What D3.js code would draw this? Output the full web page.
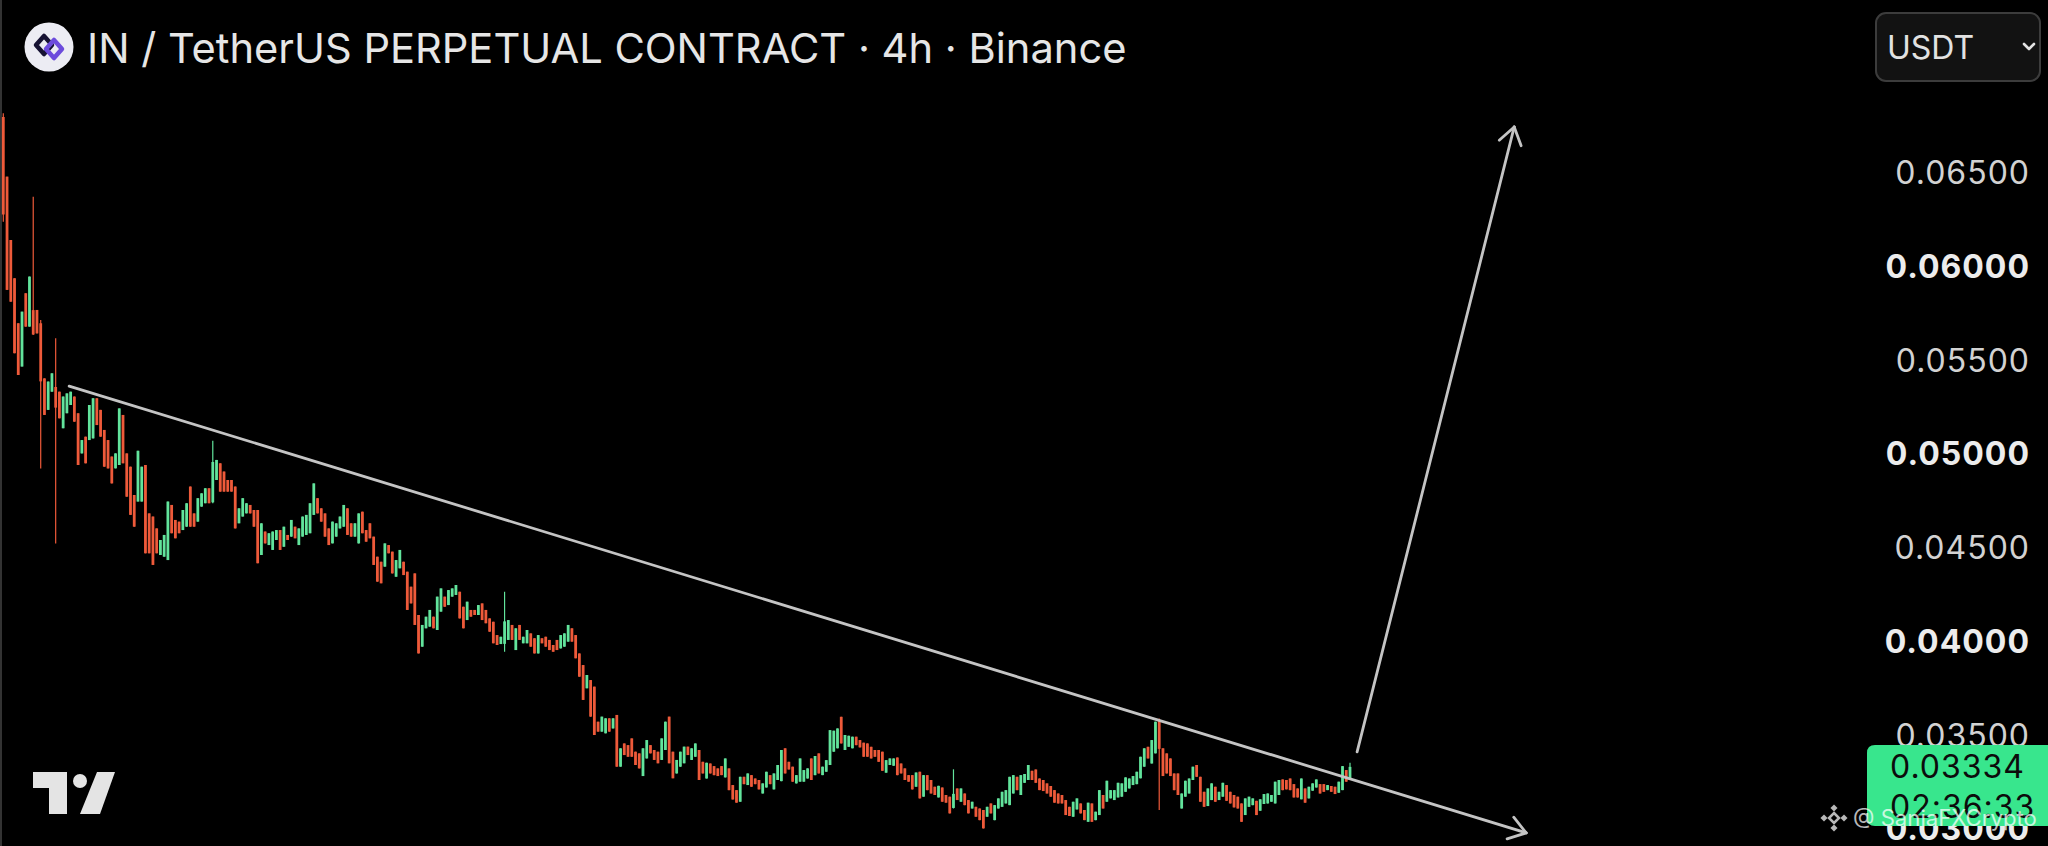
<!DOCTYPE html>
<html>
<head>
<meta charset="utf-8">
<script src="https://cdn.jsdelivr.net/npm/d3@7"></script>
<style>
  html, body { margin: 0; padding: 0; background: #000; overflow: hidden; }
  svg { display: block; }
  text { font-family: Inter, "Noto Sans", "DejaVu Sans", sans-serif; }
</style>
</head>
<body>
<div class="bigvis"></div>
<script>
var width = 2048
var height = 846

// 4h candles, IN/USDT perpetual
var opens = [0.06800,0.06482,0.06144,0.05940,0.05700,0.05469,0.05860,0.05682,0.05770,0.05771,
0.05700,0.05406,0.05238,0.05335,0.05360,0.05335,0.05140,0.05220,0.05264,0.05309,
0.05220,0.05006,0.05095,0.05077,0.05086,0.05300,0.05238,0.05131,0.05077,0.04989,
0.04926,0.04944,0.05211,0.05006,0.04935,0.04784,0.04749,0.04749,0.04944,0.04686,
0.04669,0.04606,0.04464,0.04455,0.04437,0.04731,0.04651,0.04642,0.04597,0.04615,
0.04829,0.04686,0.04642,0.04722,0.04740,0.04820,0.04745,0.04864,0.04953,0.04909,
0.04864,0.04864,0.04829,0.04633,0.04669,0.04686,0.04731,0.04704,0.04704,0.04464,
0.04589,0.04517,0.04491,0.04544,0.04597,0.04508,0.04571,0.04562,0.04615,0.04517,
0.04562,0.04571,0.04580,0.04678,0.04767,0.04713,0.04686,0.04606,0.04526,0.04562,
0.04606,0.04615,0.04713,0.04633,0.04562,0.04526,0.04695,0.04597,0.04633,0.04562,
0.04455,0.04428,0.04402,0.04517,0.04482,0.04348,0.04393,0.04428,0.04375,0.04295,
0.04366,0.04144,0.03975,0.04073,0.04082,0.04135,0.04064,0.04162,0.04242,0.04197,
0.04242,0.04251,0.04268,0.04188,0.04117,0.04171,0.04171,0.04144,0.04206,0.04171,
0.04126,0.04108,0.04037,0.03989,0.03990,0.04011,0.04091,0.03957,0.04091,0.03993,
0.03993,0.04046,0.04020,0.03939,0.04020,0.04028,0.04011,0.03984,0.04011,0.03966,
0.03975,0.04002,0.04073,0.04037,0.03939,0.03877,0.03753,0.03797,0.03762,0.03575,
0.03522,0.03513,0.03593,0.03539,0.03611,0.03335,0.03459,0.03450,0.03486,0.03415,
0.03406,0.03285,0.03379,0.03450,0.03424,0.03415,0.03371,0.03424,0.03602,0.03415,
0.03299,0.03335,0.03353,0.03442,0.03371,0.03388,0.03424,0.03361,0.03272,0.03352,
0.03338,0.03326,0.03338,0.03278,0.03326,0.03237,0.03210,0.03148,0.03281,0.03237,
0.03290,0.03272,0.03264,0.03192,0.03224,0.03290,0.03214,0.03264,0.03258,0.03433,
0.03361,0.03335,0.03246,0.03255,0.03255,0.03272,0.03379,0.03290,0.03406,0.03290,
0.03308,0.03344,0.03415,0.03433,0.03601,0.03424,0.03441,0.03433,0.03495,0.03477,
0.03463,0.03459,0.03441,0.03424,0.03424,0.03415,0.03303,0.03344,0.03340,0.03384,
0.03352,0.03326,0.03290,0.03290,0.03228,0.03308,0.03175,0.03290,0.03264,0.03228,
0.03171,0.03224,0.03184,0.03175,0.03115,0.03219,0.03148,0.03192,0.03157,0.03112,
0.03121,0.03112,0.03104,0.03068,0.03139,0.03050,0.03112,0.03121,0.03139,0.03130,
0.03192,0.03281,0.03184,0.03249,0.03264,0.03313,0.03320,0.03272,0.03264,0.03246,
0.03232,0.03210,0.03192,0.03184,0.03157,0.03121,0.03068,0.03107,0.03139,0.03104,
0.03041,0.03139,0.03050,0.03077,0.03184,0.03148,0.03166,0.03157,0.03171,0.03175,
0.03201,0.03219,0.03237,0.03242,0.03273,0.03335,0.03441,0.03352,0.03406,0.03585,
0.03433,0.03406,0.03379,0.03299,0.03299,0.03112,0.03175,0.03192,0.03264,0.03344,
0.03281,0.03201,0.03125,0.03157,0.03228,0.03157,0.03175,0.03237,0.03201,0.03184,
0.03175,0.03139,0.03077,0.03121,0.03130,0.03153,0.03100,0.03136,0.03139,0.03148,
0.03139,0.03184,0.03267,0.03264,0.03272,0.03242,0.03219,0.03161,0.03219,0.03166,
0.03207,0.03224,0.03242,0.03242,0.03210,0.03232,0.03228,0.03196,0.03210,0.03317,
0.03264]

var highs = [0.06820,0.06482,0.06144,0.05940,0.05700,0.05762,0.05860,0.05949,0.06375,0.05771,
0.05718,0.05406,0.05389,0.05433,0.05620,0.05335,0.05309,0.05326,0.05335,0.05309,
0.05220,0.05077,0.05095,0.05264,0.05300,0.05300,0.05238,0.05131,0.05077,0.04989,
0.05006,0.05246,0.05211,0.05006,0.04935,0.04784,0.05020,0.04935,0.04944,0.04686,
0.04669,0.04606,0.04544,0.04571,0.04749,0.04731,0.04651,0.04642,0.04704,0.04740,
0.04829,0.04686,0.04767,0.04793,0.04820,0.04820,0.05074,0.04971,0.04953,0.04909,
0.04864,0.04864,0.04829,0.04713,0.04767,0.04740,0.04731,0.04704,0.04704,0.04633,
0.04589,0.04580,0.04589,0.04597,0.04597,0.04615,0.04571,0.04651,0.04615,0.04606,
0.04669,0.04678,0.04740,0.04846,0.04767,0.04713,0.04686,0.04606,0.04642,0.04633,
0.04669,0.04731,0.04713,0.04633,0.04633,0.04686,0.04695,0.04597,0.04633,0.04562,
0.04455,0.04428,0.04526,0.04517,0.04482,0.04437,0.04491,0.04428,0.04375,0.04295,
0.04366,0.04144,0.04091,0.04135,0.04171,0.04135,0.04242,0.04286,0.04242,0.04277,
0.04286,0.04304,0.04268,0.04188,0.04215,0.04171,0.04171,0.04197,0.04206,0.04171,
0.04126,0.04108,0.04037,0.04028,0.04268,0.04117,0.04091,0.04073,0.04091,0.04028,
0.04064,0.04046,0.04020,0.04037,0.04020,0.04028,0.04011,0.03984,0.04011,0.04037,
0.04046,0.04091,0.04073,0.04037,0.03939,0.03877,0.03824,0.03797,0.03762,0.03575,
0.03602,0.03593,0.03593,0.03593,0.03611,0.03433,0.03459,0.03450,0.03486,0.03415,
0.03406,0.03433,0.03477,0.03450,0.03424,0.03415,0.03486,0.03575,0.03602,0.03415,
0.03371,0.03415,0.03442,0.03442,0.03433,0.03459,0.03424,0.03361,0.03356,0.03352,
0.03338,0.03326,0.03338,0.03379,0.03326,0.03237,0.03210,0.03281,0.03281,0.03299,
0.03290,0.03272,0.03264,0.03246,0.03308,0.03290,0.03299,0.03344,0.03424,0.03433,
0.03361,0.03335,0.03290,0.03379,0.03317,0.03326,0.03379,0.03392,0.03406,0.03335,
0.03370,0.03530,0.03527,0.03539,0.03601,0.03504,0.03500,0.03495,0.03495,0.03477,
0.03463,0.03459,0.03441,0.03424,0.03424,0.03415,0.03370,0.03379,0.03379,0.03384,
0.03352,0.03326,0.03290,0.03290,0.03304,0.03308,0.03290,0.03290,0.03264,0.03228,
0.03233,0.03224,0.03184,0.03175,0.03321,0.03219,0.03219,0.03192,0.03157,0.03148,
0.03121,0.03112,0.03104,0.03121,0.03139,0.03130,0.03166,0.03201,0.03210,0.03281,
0.03290,0.03281,0.03290,0.03296,0.03344,0.03313,0.03320,0.03272,0.03264,0.03246,
0.03232,0.03210,0.03192,0.03184,0.03157,0.03121,0.03148,0.03166,0.03139,0.03104,
0.03143,0.03139,0.03095,0.03210,0.03184,0.03260,0.03210,0.03210,0.03249,0.03246,
0.03278,0.03272,0.03285,0.03308,0.03388,0.03433,0.03441,0.03477,0.03575,0.03592,
0.03433,0.03406,0.03379,0.03299,0.03299,0.03192,0.03260,0.03272,0.03335,0.03344,
0.03281,0.03201,0.03219,0.03246,0.03228,0.03201,0.03249,0.03237,0.03201,0.03184,
0.03175,0.03139,0.03166,0.03175,0.03166,0.03153,0.03161,0.03189,0.03192,0.03184,
0.03255,0.03264,0.03267,0.03264,0.03272,0.03242,0.03219,0.03272,0.03219,0.03228,
0.03246,0.03267,0.03242,0.03242,0.03237,0.03232,0.03228,0.03255,0.03338,0.03317,
0.03356]

var lows = [0.06242,0.05878,0.05815,0.05540,0.05424,0.05469,0.05682,0.05682,0.05638,0.05646,
0.04926,0.05211,0.05238,0.05335,0.04526,0.05193,0.05140,0.05220,0.05264,0.05175,
0.04944,0.05006,0.04953,0.05077,0.05086,0.05157,0.05095,0.04935,0.04926,0.04846,
0.04926,0.04944,0.04953,0.04775,0.04678,0.04615,0.04749,0.04749,0.04473,0.04473,
0.04411,0.04473,0.04464,0.04455,0.04437,0.04580,0.04553,0.04580,0.04597,0.04615,
0.04615,0.04615,0.04642,0.04722,0.04740,0.04740,0.04740,0.04864,0.04802,0.04802,
0.04802,0.04802,0.04606,0.04633,0.04669,0.04686,0.04686,0.04615,0.04420,0.04464,
0.04526,0.04517,0.04491,0.04544,0.04491,0.04508,0.04544,0.04562,0.04553,0.04517,
0.04562,0.04571,0.04580,0.04678,0.04686,0.04642,0.04562,0.04517,0.04526,0.04562,
0.04606,0.04615,0.04571,0.04562,0.04562,0.04526,0.04580,0.04535,0.04553,0.04411,
0.04322,0.04313,0.04402,0.04473,0.04366,0.04348,0.04393,0.04357,0.04171,0.04206,
0.04091,0.03939,0.03975,0.04073,0.04082,0.04073,0.04064,0.04162,0.04188,0.04197,
0.04242,0.04251,0.04126,0.04073,0.04117,0.04135,0.04144,0.04144,0.04117,0.04100,
0.04055,0.03993,0.03984,0.03989,0.03948,0.04011,0.04011,0.03957,0.04011,0.03993,
0.03993,0.03975,0.03939,0.03939,0.03993,0.03975,0.03957,0.03948,0.03957,0.03966,
0.03975,0.04002,0.04002,0.03913,0.03815,0.03691,0.03753,0.03602,0.03504,0.03522,
0.03522,0.03513,0.03522,0.03539,0.03335,0.03335,0.03397,0.03388,0.03388,0.03344,
0.03326,0.03285,0.03379,0.03406,0.03371,0.03353,0.03371,0.03424,0.03353,0.03273,
0.03299,0.03335,0.03353,0.03397,0.03371,0.03388,0.03264,0.03299,0.03272,0.03299,
0.03290,0.03285,0.03290,0.03278,0.03210,0.03160,0.03143,0.03148,0.03242,0.03237,
0.03228,0.03242,0.03214,0.03192,0.03224,0.03242,0.03214,0.03264,0.03258,0.03299,
0.03320,0.03255,0.03246,0.03255,0.03255,0.03272,0.03264,0.03290,0.03299,0.03290,
0.03308,0.03344,0.03415,0.03433,0.03459,0.03424,0.03441,0.03433,0.03450,0.03438,
0.03388,0.03388,0.03379,0.03388,0.03361,0.03313,0.03303,0.03344,0.03340,0.03290,
0.03299,0.03264,0.03255,0.03214,0.03228,0.03166,0.03175,0.03210,0.03192,0.03184,
0.03171,0.03148,0.03143,0.03086,0.03112,0.03157,0.03148,0.03130,0.03086,0.03112,
0.03068,0.03050,0.03006,0.03068,0.03086,0.03050,0.03112,0.03121,0.03139,0.03130,
0.03192,0.03210,0.03184,0.03249,0.03264,0.03264,0.03249,0.03210,0.03205,0.03192,
0.03175,0.03143,0.03139,0.03139,0.03077,0.03072,0.03068,0.03107,0.03086,0.03050,
0.03041,0.03041,0.03050,0.03077,0.03112,0.03148,0.03166,0.03157,0.03171,0.03175,
0.03201,0.03219,0.03237,0.03242,0.03273,0.03335,0.03379,0.03352,0.03406,0.03104,
0.03285,0.03299,0.03285,0.03210,0.03184,0.03112,0.03175,0.03192,0.03264,0.03281,
0.03148,0.03121,0.03125,0.03157,0.03148,0.03157,0.03175,0.03153,0.03139,0.03118,
0.03112,0.03041,0.03077,0.03121,0.03130,0.03077,0.03100,0.03136,0.03139,0.03148,
0.03139,0.03184,0.03210,0.03214,0.03210,0.03171,0.03171,0.03161,0.03143,0.03166,
0.03207,0.03224,0.03192,0.03201,0.03210,0.03201,0.03189,0.03196,0.03210,0.03255,
0.03264]

var closes = [0.06280,0.05878,0.05815,0.05540,0.05424,0.05762,0.05682,0.05949,0.05640,0.05646,
0.05390,0.05211,0.05389,0.05433,0.05250,0.05193,0.05309,0.05326,0.05335,0.05175,
0.04944,0.05077,0.04953,0.05264,0.05300,0.05157,0.05095,0.04935,0.04926,0.04846,
0.05006,0.05246,0.04953,0.04775,0.04678,0.04615,0.05020,0.04935,0.04473,0.04473,
0.04411,0.04473,0.04544,0.04571,0.04749,0.04580,0.04553,0.04580,0.04704,0.04740,
0.04615,0.04615,0.04767,0.04793,0.04820,0.04740,0.04960,0.04971,0.04802,0.04802,
0.04802,0.04802,0.04606,0.04713,0.04767,0.04740,0.04686,0.04615,0.04420,0.04633,
0.04526,0.04580,0.04589,0.04597,0.04491,0.04615,0.04544,0.04651,0.04553,0.04606,
0.04669,0.04678,0.04740,0.04846,0.04686,0.04642,0.04562,0.04517,0.04642,0.04633,
0.04669,0.04731,0.04571,0.04562,0.04633,0.04686,0.04580,0.04535,0.04553,0.04411,
0.04322,0.04313,0.04526,0.04473,0.04366,0.04437,0.04491,0.04357,0.04171,0.04206,
0.04091,0.03939,0.04091,0.04135,0.04171,0.04073,0.04242,0.04286,0.04188,0.04277,
0.04286,0.04304,0.04126,0.04073,0.04215,0.04135,0.04144,0.04197,0.04117,0.04100,
0.04055,0.03993,0.03984,0.04028,0.04110,0.04117,0.04011,0.04073,0.04011,0.04028,
0.04064,0.03975,0.03939,0.04037,0.03993,0.03975,0.03957,0.03948,0.03957,0.04037,
0.04046,0.04091,0.04002,0.03913,0.03815,0.03691,0.03824,0.03602,0.03504,0.03522,
0.03602,0.03593,0.03522,0.03593,0.03335,0.03433,0.03397,0.03388,0.03388,0.03344,
0.03326,0.03433,0.03477,0.03406,0.03371,0.03353,0.03486,0.03575,0.03353,0.03273,
0.03371,0.03415,0.03442,0.03397,0.03433,0.03459,0.03264,0.03299,0.03356,0.03299,
0.03290,0.03285,0.03290,0.03379,0.03210,0.03160,0.03143,0.03281,0.03242,0.03299,
0.03228,0.03242,0.03214,0.03246,0.03308,0.03242,0.03299,0.03344,0.03424,0.03299,
0.03320,0.03255,0.03290,0.03379,0.03317,0.03326,0.03264,0.03392,0.03299,0.03335,
0.03370,0.03530,0.03527,0.03539,0.03459,0.03504,0.03500,0.03495,0.03450,0.03438,
0.03388,0.03388,0.03379,0.03388,0.03361,0.03313,0.03370,0.03379,0.03379,0.03290,
0.03299,0.03264,0.03255,0.03214,0.03304,0.03166,0.03290,0.03210,0.03192,0.03184,
0.03233,0.03148,0.03143,0.03086,0.03190,0.03157,0.03219,0.03130,0.03086,0.03148,
0.03068,0.03050,0.03006,0.03121,0.03086,0.03130,0.03166,0.03201,0.03210,0.03281,
0.03290,0.03210,0.03290,0.03296,0.03344,0.03264,0.03249,0.03210,0.03205,0.03192,
0.03175,0.03143,0.03139,0.03139,0.03077,0.03072,0.03148,0.03166,0.03086,0.03050,
0.03143,0.03041,0.03095,0.03210,0.03112,0.03260,0.03210,0.03210,0.03249,0.03246,
0.03278,0.03272,0.03285,0.03308,0.03388,0.03433,0.03379,0.03477,0.03575,0.03430,
0.03285,0.03299,0.03285,0.03210,0.03184,0.03192,0.03260,0.03272,0.03335,0.03281,
0.03148,0.03121,0.03219,0.03246,0.03148,0.03201,0.03249,0.03153,0.03139,0.03118,
0.03112,0.03041,0.03166,0.03175,0.03166,0.03077,0.03161,0.03189,0.03192,0.03184,
0.03255,0.03264,0.03210,0.03214,0.03210,0.03171,0.03171,0.03272,0.03143,0.03228,
0.03246,0.03267,0.03192,0.03201,0.03237,0.03201,0.03189,0.03255,0.03338,0.03255,
0.03334]

var priceTicks = [0.030, 0.035, 0.040, 0.045, 0.050, 0.055, 0.060, 0.065]
var lastPrice = 0.03334
var countdown = "02:36:33"
var title = "IN / TetherUS PERPETUAL CONTRACT \u00b7 4h \u00b7 Binance"
var quoteCurrency = "USDT"
var watermark = "@ SaniaFXCrypto"

// drawings, as [candle index, price]
var trendLine = [[17.6, 0.05365], [407.1, 0.02982]]
var breakoutArrow = [[361.9, 0.03414], [403.9, 0.06747]]

var upColor = "#62e49c"
var downColor = "#ee5a3a"

var n = closes.length
var x = d3.scaleLinear().domain([0, n - 1]).range([3.3, 1350])
var y = d3.scaleLinear().domain([0.03, 0.065]).range([829.5, 173.25])

var svg = d3.select(".bigvis").append("svg")
    .attr("width", width)
    .attr("height", height)

svg.append("rect").attr("width", width).attr("height", height).attr("fill", "#000")

// left edge of the pane
svg.append("line")
    .attr("x1", 1).attr("x2", 1).attr("y1", 0).attr("y2", height)
    .attr("stroke", "#333").attr("stroke-width", 2)

// candles
var candles = svg.append("g").attr("class", "candles")
var idx = d3.range(n)

candles.selectAll(".wick")
    .data(idx)
  .enter().append("line")
    .attr("class", "wick")
    .attr("x1", function(i){ return x(i) })
    .attr("x2", function(i){ return x(i) })
    .attr("y1", function(i){ return y(highs[i]) })
    .attr("y2", function(i){ return y(lows[i]) })
    .attr("stroke", function(i){ return closes[i] >= opens[i] ? upColor : downColor })
    .attr("stroke-width", 1.2)

var bodyW = 2.8
candles.selectAll(".body")
    .data(idx)
  .enter().append("rect")
    .attr("class", "body")
    .attr("x", function(i){ return x(i) - bodyW / 2 })
    .attr("y", function(i){ return y(Math.max(opens[i], closes[i])) })
    .attr("width", bodyW)
    .attr("height", function(i){ return Math.max(1.2, Math.abs(y(opens[i]) - y(closes[i]))) })
    .attr("fill", function(i){ return closes[i] >= opens[i] ? upColor : downColor })

// drawings
function drawArrow(pts, armLen, armAngle){
  var p0 = [x(pts[0][0]), y(pts[0][1])]
  var p1 = [x(pts[1][0]), y(pts[1][1])]
  var g = svg.append("g")
      .attr("stroke", "#c4c4c4")
      .attr("stroke-width", 2.8)
      .attr("stroke-linecap", "round")
      .attr("fill", "none")
  g.append("line")
      .attr("x1", p0[0]).attr("y1", p0[1])
      .attr("x2", p1[0]).attr("y2", p1[1])
  var ang = Math.atan2(p0[1] - p1[1], p0[0] - p1[0])
  ;[-armAngle, armAngle].forEach(function(a){
    g.append("line")
        .attr("x1", p1[0]).attr("y1", p1[1])
        .attr("x2", p1[0] + armLen * Math.cos(ang + a))
        .attr("y2", p1[1] + armLen * Math.sin(ang + a))
  })
}
drawArrow(trendLine, 20, 0.6)
drawArrow(breakoutArrow, 20, 0.6)

// price scale
var axis = svg.append("g")
    .attr("transform", "translate(2030,0)")
    .call(d3.axisLeft(y).tickValues(priceTicks).tickSize(0).tickPadding(0).tickFormat(d3.format(".5f")))
axis.select(".domain").remove()
axis.selectAll(".tick text")
    .attr("font-family", "Inter, sans-serif")
    .attr("font-size", 32)
    .attr("letter-spacing", 1)
    .attr("font-weight", function(d){ return Math.round(d * 1000) % 10 == 0 ? 700 : 400 })
    .attr("fill", function(d){ return Math.round(d * 1000) % 10 == 0 ? "#ececec" : "#d2d2d2" })

// last price label
var ly = y(lastPrice)
svg.append("path")
    .attr("d", "M1867," + (ly - 14) + " q0,-8 8,-8 H2048 V" + (ly + 59) + " H1875 q-8,0 -8,-8 Z")
    .attr("fill", "#38e68d")
svg.append("text")
    .attr("x", 1890).attr("y", ly).attr("dy", "0.36em")
    .attr("font-size", 32).attr("letter-spacing", 1)
    .attr("fill", "#0c0c0c")
    .text(d3.format(".5f")(lastPrice))
svg.append("text")
    .attr("x", 1890).attr("y", ly + 40).attr("dy", "0.36em")
    .attr("font-size", 32).attr("letter-spacing", 1)
    .attr("fill", "#0c0c0c")
    .text(countdown)

// currency selector
svg.append("rect")
    .attr("x", 1876).attr("y", 13).attr("width", 164).attr("height", 68).attr("rx", 10)
    .attr("fill", "#121212").attr("stroke", "#3c3c3c").attr("stroke-width", 2)
svg.append("text")
    .attr("x", 1887).attr("y", 47).attr("dy", "0.36em")
    .attr("font-size", 32).attr("fill", "#e2e2e2")
    .text(quoteCurrency)
svg.append("path")
    .attr("d", "M2024,44 L2029,49 L2034,44")
    .attr("fill", "none").attr("stroke", "#e2e2e2").attr("stroke-width", 2.6)
    .attr("stroke-linecap", "round").attr("stroke-linejoin", "round")

// title
var icon = svg.append("g").attr("transform", "translate(49,47)")
icon.append("circle").attr("r", 24.5).attr("fill", "#ececf3")
icon.append("path")
    .attr("d", "M-13,-2 L-5,-11 L3,-2 L-5,7 Z")
    .attr("fill", "none").attr("stroke", "#161233").attr("stroke-width", 4.5).attr("stroke-linejoin", "round")
icon.append("path")
    .attr("d", "M-3,2 L5,-7 L13,2 L5,11 Z")
    .attr("fill", "none").attr("stroke", "#6c4bdc").attr("stroke-width", 4.5).attr("stroke-linejoin", "round")

var titleText = svg.append("text")
    .attr("x", 87).attr("y", 63)
    .attr("font-size", 43)
    .attr("fill", "#e6e6e6")
    .text(title)
var tw = titleText.node().getComputedTextLength()
if (tw > 0) titleText.attr("font-size", 43 * Math.min(1.12, Math.max(0.88, 1040 / tw)))

// TradingView mark
var tv = svg.append("g").attr("fill", "#e4e4e4")
tv.append("path").attr("d", "M33,772 H67 V814 H49 V788 H33 Z")
tv.append("circle").attr("cx", 80).attr("cy", 781).attr("r", 7)
tv.append("path").attr("d", "M97,772 H115 L100,814 H80 Z")

// watermark
var wm = svg.append("g").attr("opacity", 0.72)
var bl = wm.append("g").attr("transform", "translate(1834,818)").attr("fill", "#ffffff")
bl.append("path").attr("d", "M0,-5 L5,0 L0,5 L-5,0 Z").attr("fill", "none").attr("stroke", "#fff").attr("stroke-width", 2.5)
;[[0,-10],[10,0],[0,10],[-10,0]].forEach(function(p){
  bl.append("rect").attr("x", p[0] - 2.5).attr("y", p[1] - 2.5).attr("width", 5).attr("height", 5)
      .attr("transform", "rotate(45," + p[0] + "," + p[1] + ")")
})
var wmText = wm.append("text")
    .attr("x", 1853).attr("y", 818).attr("dy", "0.36em")
    .attr("font-size", 26).attr("fill", "#ffffff")
    .text(watermark)
var ww = wmText.node().getComputedTextLength()
if (ww > 184) wmText.attr("font-size", 26 * 184 / ww)
</script>
</body>
</html>
